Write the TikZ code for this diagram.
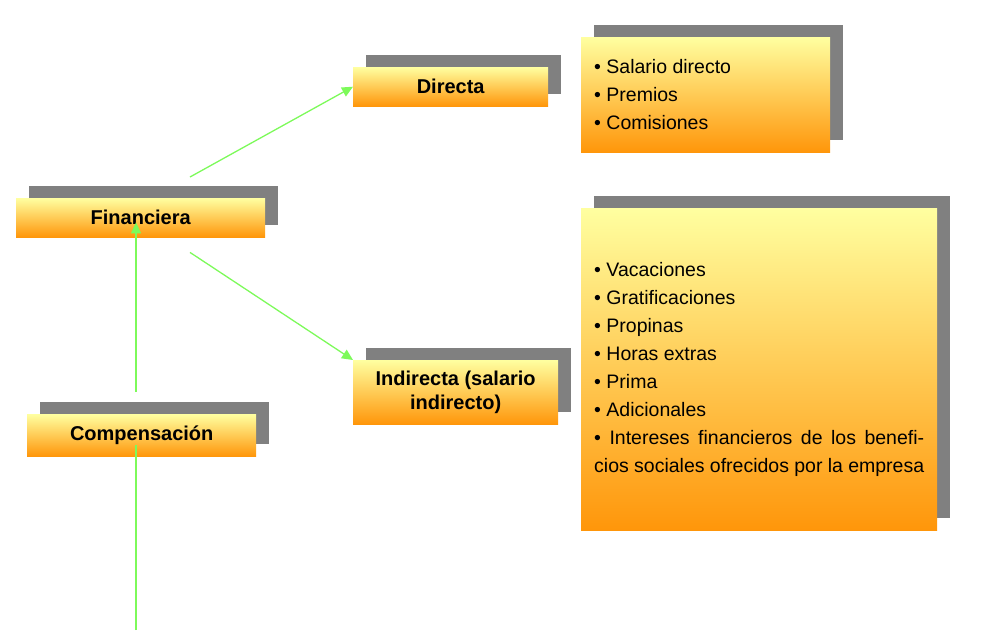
\documentclass[tikz,border=0pt]{standalone}
\usepackage{fontspec}
\setmainfont{Liberation Sans}
\usetikzlibrary{shadows,arrows.meta}
\definecolor{boxtop}{RGB}{255,255,160}
\definecolor{boxbot}{RGB}{255,150,10}
\definecolor{shade}{RGB}{128,128,128}
\definecolor{link}{RGB}{125,250,90}
\tikzset{
  card/.style={anchor=north west, inner sep=0pt, top color=boxtop, bottom color=boxbot,
    drop shadow={shadow xshift=13pt, shadow yshift=12pt, fill=shade, opacity=1},
    font=\fontsize{20}{24}\selectfont\bfseries, align=center},
  listcard/.style={card, font=\fontsize{19.5}{28}\selectfont, align=justify,
    inner xsep=13pt, inner ysep=8pt},
  link/.style={draw=link, line width=1.3pt, -{Triangle[length=11pt,width=10pt]}}
}
\begin{document}
\begin{tikzpicture}[x=1pt,y=-1pt]
\useasboundingbox (0,0) rectangle (999,630);
\node[card, minimum width=249pt, minimum height=39pt](fin) at (16,198){Financiera};
\node[card, minimum width=195pt, minimum height=39pt](dir) at (353,67){Directa};
\node[card, minimum width=229pt, minimum height=42pt](comp) at (27,414){Compensación};
\node[card, minimum width=205pt, minimum height=64pt](ind) at (353,360){Indirecta (salario\\indirecto)};
\node[listcard, text width=223pt, minimum height=115pt](dirlist) at (581,37){%
\textbullet\ Salario directo\\\textbullet\ Premios\\\textbullet\ Comisiones};
\node[listcard, text width=330pt, minimum height=322pt, text depth=200pt](indlist) at (581,208){%
\textbullet\ Vacaciones\\\textbullet\ Gratificaciones\\\textbullet\ Propinas\\\textbullet\ Horas extras\\\textbullet\ Prima\\\textbullet\ Adicionales\\\textbullet\ Intereses financieros de los beneficios sociales ofrecidos por la empresa\par};
\coordinate (base) at (136,630);
\draw[link] (fin.north west)++(174,-21) coordinate (fa) -- (dir.west);
\draw[link] (fin.south west)++(174,15) -- (ind.north west);
\draw[link] (comp.north west)++(109,-22) -- ([yshift=15pt]fin.south west -| base);
\draw[draw=link, line width=1.3pt] (base) -- ([yshift=11pt]comp.south west -| base);
\end{tikzpicture}
\end{document}
